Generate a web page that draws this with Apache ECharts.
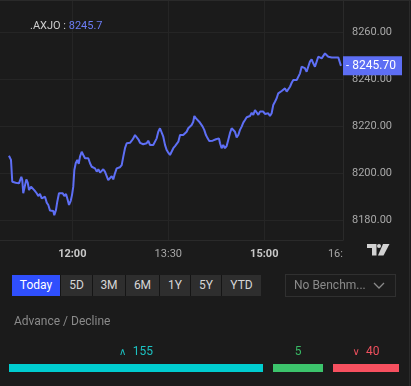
<!DOCTYPE html>
<html>
<head>
<meta charset="utf-8">
<script src="https://cdn.jsdelivr.net/npm/echarts@6/dist/echarts.min.js"></script>
<style>
html,body{margin:0;padding:0;background:#1b1b1b;}
#wrap{position:relative;width:411px;height:386px;overflow:hidden;background:#1b1b1b;font-family:Roboto,"Noto Sans",sans-serif;}
#chart{position:absolute;left:0;top:0;width:411px;height:386px;}
.topline{position:absolute;left:0;top:0;width:411px;height:1px;background:#2a2a2a;}
.rightline{position:absolute;left:409px;top:0;width:1px;height:386px;background:#2a2a2a;}
#ranges{position:absolute;left:12px;top:275px;height:21px;display:flex;gap:1px;background:#151515;}
#ranges div{height:21px;line-height:21px;text-align:center;font-size:12px;color:#d6d6d6;background:#2e2e2e;}
#ranges div.on{background:#2f4ffd;color:#ffffff;}
#bench{position:absolute;left:285px;top:274px;width:109px;height:21px;border:1px solid #303030;background:#1c1c1c;color:#8a8a8a;font-size:12px;line-height:21px;padding-left:0;}
#bench span{position:absolute;left:8px;top:0;}
#bench svg{position:absolute;left:87px;top:7px;}
#adTitle{position:absolute;left:14px;top:313px;font-size:12px;color:#8a8a8a;line-height:16px;}
#tvlogo{position:absolute;left:367px;top:244px;}
</style>
</head>
<body>
<div id="wrap">
  <div id="chart"></div>
  <div class="topline"></div>
  <div class="rightline"></div>
  <div id="ranges"></div>
  <div id="bench"><span>No Benchm...</span><svg width="12" height="7" viewBox="0 0 12 7"><polyline points="1,1 6,6 11,1" fill="none" stroke="#8a8a8a" stroke-width="1.3"/></svg></div>
  <div id="adTitle">Advance / Decline</div>
  <svg id="tvlogo" width="23" height="12" viewBox="0 0 23 12"><path d="M0 0h9.5v11.5h-4.5v-7.5h-5z" fill="#d2d2d2"/><circle cx="12" cy="2" r="2" fill="#d2d2d2"/><path d="M16 0h6.5l-6 11.5h-5.5z" fill="#d2d2d2"/></svg>
</div>
<script>
// ---- data ----
var symbol = '.AXJO';
var lastPrice = 8245.7;
// minutes after 10:00
var minutes = [60.6,62.5,63.7,64.7,66.9,68.4,70.0,71.0,72.2,73.1,74.0,75.4,76.9,78.2,79.4,81.3,83.1,84.7,86.6,88.1,
89.7,91.3,92.8,94.4,96.0,97.5,99.1,100.7,102.2,103.1,104.7,105.9,107.5,109.1,111.0,112.5,114.1,115.7,116.9,118.5,
119.7,120.9,121.9,123.2,124.7,126.0,127.2,128.8,130.3,131.9,
133.5,135.0,136.6,138.2,139.7,141.3,142.9,144.4,146.0,147.5,149.0,150.6,152.2,153.7,155.3,156.9,158.4,160.0,161.6,163.1,
164.7,166.3,167.8,169.4,171.0,172.5,174.1,175.7,177.2,178.8,180.4,181.9,183.5,185.0,186.5,188.1,189.7,191.2,192.8,194.4,
195.9,197.5,199.1,200.6,202.2,203.8,205.3,206.9,208.5,210.0,211.6,
213.2,214.7,216.3,217.9,219.4,221.0,222.5,224.0,225.6,227.2,228.7,230.3,231.9,233.4,234.4,236.0,237.5,239.0,240.6,242.2,
243.7,245.3,246.9,248.4,250.0,251.6,253.1,254.7,256.3,257.5,258.5,260.0,261.5,263.1,264.7,266.2,267.8,269.4,270.9,272.5,
274.1,275.6,277.2,278.8,280.3,281.9,283.5,285.0,286.6,288.2,289.7,
291.3,292.9,294.4,296.0,297.5,299.0,300.6,302.2,303.7,305.3,306.9,308.4,310.0,311.6,313.1,314.7,316.3,317.8,319.4,321.0,
322.5,324.1,325.7,327.2,328.8,330.4,331.9,333.5,335.0,336.5,338.1,339.7,341.2,342.8,344.4,345.9,347.5,349.1,350.6,352.2,
353.8,355.3,356.9,358.5,360.0,363.2,369.4,371.0,371.9];
var prices = [8207.4,8205.6,8196.3,8195.6,8195.9,8195.3,8195.6,8194.9,8198.4,8197.0,8191.4,8192.1,8197.3,8195.9,8192.8,8194.2,8193.5,8192.5,8191.4,8190.2,
8191.1,8189.2,8188.5,8189.9,8187.4,8186.4,8184.0,8183.5,8183.8,8182.0,8184.3,8187.8,8191.4,8191.0,8191.4,8190.2,8191.1,8188.5,8186.4,8188.2,
8190.6,8194.2,8201.3,8204.2,8205.6,8203.9,8207.0,8209.1,8207.7,8206.3,
8205.6,8206.3,8204.2,8202.7,8203.4,8202.0,8200.6,8201.6,8200.2,8201.0,8201.6,8200.6,8199.9,8197.0,8197.8,8198.7,8197.3,8199.9,8202.0,8201.3,
8202.5,8203.4,8207.0,8210.6,8212.7,8213.4,8212.9,8213.8,8214.8,8216.2,8215.8,8214.4,8212.9,8212.7,8212.3,8212.9,8212.7,8213.8,8212.0,8211.2,
8212.0,8212.7,8214.8,8217.6,8219.1,8218.4,8215.5,8212.0,8209.8,8208.7,8207.7,
8208.4,8210.6,8211.5,8212.0,8213.4,8216.2,8215.8,8216.2,8216.6,8217.6,8219.1,8219.8,8220.5,8221.9,8224.3,8223.3,8222.6,8221.9,8221.2,8219.8,
8218.4,8216.2,8214.8,8213.7,8213.4,8213.8,8213.8,8214.4,8214.1,8214.8,8212.7,8210.6,8212.0,8210.6,8211.5,8214.1,8217.0,8219.1,8219.8,8217.6,
8215.2,8216.2,8218.4,8219.8,8221.5,8222.6,8223.8,8224.0,8224.3,8225.7,8224.8,
8226.9,8226.2,8224.8,8226.2,8225.5,8226.2,8225.2,8224.8,8225.5,8224.3,8225.5,8229.0,8230.4,8231.9,8234.0,8234.7,8235.0,8235.4,8236.1,8234.7,
8234.0,8236.8,8238.5,8239.7,8240.4,8239.7,8238.9,8242.5,8245.3,8246.1,8244.7,8243.2,8245.3,8247.5,8248.5,8246.8,8245.3,8247.5,8249.6,8250.3,
8248.9,8249.6,8251.0,8251.7,8249.6,8249.3,8249.3,8249.2,8245.7];
var yTicks = [8180, 8200, 8220, 8240, 8260];
var xTickMinutes = [120, 210, 300];
var xTickLabels = ['12:00', '13:30', '15:00'];
var xTickBold = [true, false, true];
var xCutLabelMinute = 366.7;
var xCutLabel = '16:';
var ranges = ['Today', '5D', '3M', '6M', '1Y', '5Y', 'YTD'];
var adNames = ['advances', 'unchanged', 'declines'];
var adValues = [155, 5, 40];

// ---- layout ----
var rangeWidths = [48, 31, 32, 33, 30, 30, 39];
var adColors = ['#00cdd0', '#3cc46c', '#f6505f'];
var adTextColors = ['#1cc2c2', '#37b964', '#f0505e'];
var adIcons = ['\u2227', '', '\u2228'];
var adGrids = [{left: 9, width: 254}, {left: 273, width: 50}, {left: 333, width: 66}];

var rEl = document.getElementById('ranges');
ranges.forEach(function (r, i) {
  var d = document.createElement('div');
  d.textContent = r;
  d.style.width = rangeWidths[i] + 'px';
  if (i === 0) d.className = 'on';
  rEl.appendChild(d);
});

var lineData = minutes.map(function (m, i) { return [m, prices[i]]; });

var grids = [{left: 0, top: 0, width: 343, height: 240}];
var xAxes = [{
  type: 'value', gridIndex: 0, min: 52.2, max: 373.8,
  axisLine: {show: true, lineStyle: {color: '#2a2a2a'}},
  axisTick: {show: false, customValues: xTickMinutes},
  splitLine: {show: true, lineStyle: {color: '#252525'}},
  axisLabel: {
    customValues: xTickMinutes.concat([xCutLabelMinute]),
    margin: 9,
    formatter: function (v) {
      for (var i = 0; i < xTickMinutes.length; i++) {
        if (Math.abs(v - xTickMinutes[i]) < 0.01) return (xTickBold[i] ? '{b|' : '{n|') + xTickLabels[i] + '}';
      }
      return '{n|' + xCutLabel + '}';
    },
    rich: {
      b: {fontFamily: 'Roboto', fontSize: 11, fontWeight: 'bold', color: '#c8c8c8'},
      n: {fontFamily: 'Roboto', fontSize: 11, color: '#a8a8a8'}
    }
  }
}];
var yAxes = [{
  type: 'value', gridIndex: 0, position: 'right', min: 8171.47, max: 8273.77,
  axisLine: {show: true, lineStyle: {color: '#2a2a2a'}},
  axisTick: {show: false, customValues: yTicks},
  splitLine: {show: true, lineStyle: {color: '#252525'}},
  axisLabel: {customValues: yTicks, margin: 9, color: '#a8a8a8', fontFamily: 'Roboto', fontSize: 11,
    formatter: function (v) { return v.toFixed(2); }}
}];
var series = [{
  type: 'line', xAxisIndex: 0, yAxisIndex: 0, data: lineData, showSymbol: false, symbol: 'none',
  lineStyle: {color: '#5e6ff5', width: 2}, silent: true, animation: false,
  markLine: {
    silent: true, symbol: 'none', animation: false,
    lineStyle: {color: 'rgba(0,0,0,0)', width: 0},
    data: [{yAxis: lastPrice}],
    label: {
      show: true, position: 'end', distance: 0,
      backgroundColor: '#5d6ef4', padding: [3, 6, 3, 3],
      formatter: function () { return '{d|-} {v|' + lastPrice.toFixed(2) + '}'; },
      rich: {
        d: {color: '#ffffff', fontFamily: 'Roboto', fontSize: 11, lineHeight: 13},
        v: {color: '#ffffff', fontFamily: 'Roboto', fontSize: 12, lineHeight: 13}
      }
    }
  }
}];

adValues.forEach(function (val, i) {
  var gi = i + 1;
  grids.push({left: adGrids[i].left, width: adGrids[i].width, top: 364, height: 8});
  xAxes.push({type: 'value', gridIndex: gi, min: 0, max: val, show: false});
  yAxes.push({type: 'category', gridIndex: gi, data: [adNames[i]], show: false});
  series.push({
    type: 'bar', xAxisIndex: gi, yAxisIndex: gi, data: [val], barWidth: 8, silent: true, animation: false,
    itemStyle: {color: adColors[i]},
    label: {
      show: true, position: 'top', distance: 6,
      formatter: function (p) { return (adIcons[i] ? '{i|' + adIcons[i] + '} ' : '') + '{n|' + p.value + '}'; },
      rich: {
        i: {color: adTextColors[i], fontSize: 10, fontFamily: 'DejaVu Sans', padding: [0, 3, 0, 0]},
        n: {color: adTextColors[i], fontSize: 12, fontFamily: 'Roboto'}
      }
    }
  });
});

var chart = echarts.init(document.getElementById('chart'), null, {renderer: 'canvas'});
chart.setOption({
  backgroundColor: 'transparent',
  animation: false,
  title: {
    text: '{a|' + symbol + ' : }{b|' + lastPrice.toFixed(1) + '}',
    left: 30, top: 21, padding: 0,
    textStyle: {fontWeight: 'normal', rich: {
      a: {color: '#cdcdcd', fontSize: 11, fontWeight: 'normal', fontFamily: 'Roboto'},
      b: {color: '#6c7df6', fontSize: 11, fontWeight: 'normal', fontFamily: 'Roboto'}
    }}
  },
  grid: grids,
  xAxis: xAxes,
  yAxis: yAxes,
  series: series
});
</script>
</body>
</html>
